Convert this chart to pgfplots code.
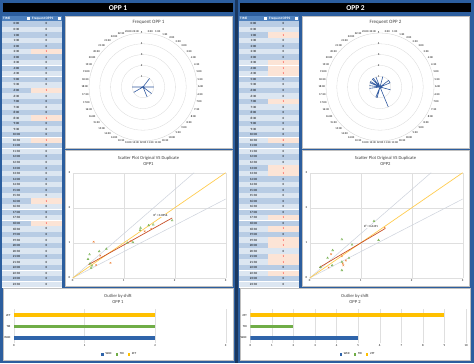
\documentclass[border=0pt]{standalone}
\usepackage{pgfplots}
\pgfplotsset{compat=1.18}
\usepackage{pgfplotstable}
\usepgfplotslibrary{polar}
\usepackage{fontspec}
\setmainfont{Carlito}
\newcommand\fs[1]{\fontsize{#1}{#1}\selectfont}
\definecolor{bgblue}{RGB}{44,94,158}
\definecolor{hdrblue}{RGB}{79,129,189}
\definecolor{rowA}{RGB}{184,204,228}
\definecolor{rowB}{RGB}{220,230,241}
\definecolor{hl}{RGB}{252,228,214}
\definecolor{radar}{RGB}{50,90,160}
\definecolor{barblue}{RGB}{47,100,170}
\definecolor{bargreen}{RGB}{112,173,71}
\definecolor{baryellow}{RGB}{255,192,0}
\definecolor{trend}{RGB}{200,80,40}
\definecolor{idline}{RGB}{255,205,80}
\definecolor{tolline}{RGB}{205,210,220}
\definecolor{mgreen}{RGB}{112,173,71}
\definecolor{morange}{RGB}{237,125,49}

\pgfplotstableread[row sep=\\]{
i v\\ 0 0\\ 1 0\\ 2 0\\ 3 0\\ 4 0\\ 5 1\\ 6 0\\ 7 0\\ 8 0\\ 9 0\\ 10 0\\ 11 0\\
12 1\\ 13 0\\ 14 0\\ 15 0\\ 16 0\\ 17 1\\ 18 0\\ 19 0\\ 20 0\\ 21 1\\ 22 0\\ 23 0\\
24 0\\ 25 0\\ 26 0\\ 27 0\\ 28 0\\ 29 0\\ 30 0\\ 31 0\\ 32 1\\ 33 0\\ 34 0\\ 35 0\\
36 1\\ 37 0\\ 38 0\\ 39 0\\ 40 0\\ 41 0\\ 42 0\\ 43 0\\ 44 0\\ 45 0\\ 46 0\\ 47 0\\
}\dataA
\pgfplotstableread[row sep=\\]{
i v\\ 0 0\\ 1 0\\ 2 1\\ 3 0\\ 4 0\\ 5 0\\ 6 0\\ 7 1\\ 8 1\\ 9 1\\ 10 0\\ 11 0\\
12 0\\ 13 0\\ 14 1\\ 15 0\\ 16 0\\ 17 0\\ 18 0\\ 19 0\\ 20 0\\ 21 2\\ 22 0\\ 23 0\\
24 0\\ 25 0\\ 26 1\\ 27 1\\ 28 0\\ 29 0\\ 30 0\\ 31 0\\ 32 0\\ 33 0\\ 34 0\\ 35 1\\
36 0\\ 37 1\\ 38 0\\ 39 1\\ 40 1\\ 41 0\\ 42 1\\ 43 1\\ 44 0\\ 45 1\\ 46 0\\ 47 0\\
}\dataB

\newcommand{\drawtable}[3]{%
\begin{scope}[xshift=#1bp]
 \fill[hdrblue] (2,347) rectangle (62,341.8);
 \node[font=\fs{3.4}\bfseries, text=white, anchor=west, inner sep=0] at (3,344.4) {TIME};
 \node[font=\fs{3.4}\bfseries, text=white, anchor=west, inner sep=0] at (32,344.4) {#2};
 \fill[white] (27.2,342.6) rectangle (30.4,346.2);
 \fill[white] (58.2,342.6) rectangle (61.4,346.2);
 \foreach \i in {0,...,47} {
   \pgfplotstablegetelem{\i}{v}\of#3
   \let\val\pgfplotsretval
   \pgfmathsetmacro\yt{341.8-5.54*\i}
   \pgfmathsetmacro\yb{\yt-5.54}
   \pgfmathsetmacro\ym{\yt-2.77}
   \pgfmathtruncatemacro\hh{floor(\i/2)}
   \pgfmathtruncatemacro\odd{mod(\i,2)}
   \ifnum\odd=0 \def\rc{rowA}\else\def\rc{rowB}\fi
   \fill[\rc] (2,\yb) rectangle (31,\yt);
   \ifnum\val>0 \fill[hl] (31,\yb) rectangle (62,\yt); \def\tc{red}\else \fill[\rc] (31,\yb) rectangle (62,\yt); \def\tc{black}\fi
   \draw[white, line width=0.3bp] (2,\yb) -- (62,\yb);
   \node[font=\fs{3.2}, inner sep=0] at (16.5,\ym) {\hh:\ifnum\odd=0 00\else 30\fi};
   \node[font=\fs{3.2}, inner sep=0, text=\tc] at (46.5,\ym) {\val};
 }
\end{scope}}

\pgfplotsset{
 radarstyle/.style={anchor=center, scale only axis, width=108bp, height=108bp,
  xmin=-270, xmax=90, ymin=0, ymax=5,
  xtick={-262.5,-255,...,90},
  xticklabels={23:30,23:00,22:30,22:00,21:30,21:00,20:30,20:00,19:30,19:00,18:30,18:00,17:30,17:00,16:30,16:00,15:30,15:00,14:30,14:00,13:30,13:00,12:30,12:00,11:30,11:00,10:30,10:00,9:30,9:00,8:30,8:00,7:30,7:00,6:30,6:00,5:30,5:00,4:30,4:00,3:30,3:00,2:30,2:00,1:30,1:00,0:30,0:00},
  xticklabel style={font=\fs{2.8}, inner sep=0.9bp},
  ytick={1,2,3,4,5},
  hide y axis,
  xmajorgrids=false,
  axis line style={gray!40, line width=0.3bp},
  xtick style={draw=none},
  major tick length=0pt, clip=false},
 scatstyle/.style={anchor=south west, scale only axis, width=153bp, height=105.3bp,
  xmin=0, xmax=3, ymin=0, ymax=3, xtick={0,1,2,3}, ytick={0,1,2,3},
  grid=major, major grid style={gray!25, line width=0.3bp},
  axis line style={draw=none}, major tick length=0pt,
  tick label style={font=\fs{3}}, /pgf/number format/assume math mode=true,
  xticklabel style={yshift=2bp}, yticklabel style={xshift=1bp}},
 barstyle/.style={anchor=south west, scale only axis, height=34bp,
  ymin=-0.5, ymax=2.5, ytick={0,1,2}, yticklabels={WHC,TRI,2FT},
  xmajorgrids, major grid style={gray!25, line width=0.3bp},
  axis line style={draw=none}, major tick length=0pt,
  tick label style={font=\fs{3}}, /pgf/number format/assume math mode=true,
  xticklabel style={yshift=2bp},
  legend columns=3, legend style={draw=none, fill=none, font=\fs{3}, at={(0.5,-0.33)}, anchor=center,
   /tikz/every even column/.append style={column sep=2bp}},
  legend image code/.code={\fill[#1] (0,-1bp) rectangle (2.2bp,1.2bp);}},
}

\begin{document}
\begin{tikzpicture}[x=1bp,y=1bp]
\useasboundingbox (0,0) rectangle (474,363);
\fill[bgblue] (0,0) rectangle (474,363);
\fill[bgblue!60!black] (235.2,0) rectangle (237.6,363);
% title bars
\fill[black] (3,360) rectangle (233,350.5);
\node[font=\fs{7.5}\bfseries, text=white] at (118,355.2) {OPP 1};
\fill[black] (240,360) rectangle (471,350.5);
\node[font=\fs{7.5}\bfseries, text=white] at (355.5,355.2) {OPP 2};
% tables
\drawtable{0}{Frequent OPP1}{\dataA}
\drawtable{237}{Frequent OPP2}{\dataB}
% chart boxes
\foreach \ox in {0,237} {
 \fill[white, draw=gray!50, line width=0.3bp] (65+\ox,347) rectangle (232+\ox,215);
 \fill[white, draw=gray!50, line width=0.3bp] (65+\ox,213) rectangle (232+\ox,77);
 \fill[white, draw=gray!50, line width=0.3bp] (3+\ox,74.5) rectangle (233+\ox,2.5);
 \node[font=\fs{4.6}, text=black!75] at (118+\ox,67) {Outlier by shift};
 \node[font=\fs{4.6}, text=black!75] at (148.5+\ox,204.7) {Scatter Plot Original VS Duplicate};
 % radar grid rings (r = 1..4; r = 5 is the axis circle)
 \foreach \r in {1,2,3,4} {
   \draw[gray!30, line width=0.3bp] (143+\ox,276) circle[radius=10.8*\r];
 }
}
\node[font=\fs{5}, text=black!75] at (148.5,340.7) {Frequent OPP 1};
\node[font=\fs{5}, text=black!75] at (385.5,340.7) {Frequent OPP 2};
\node[font=\fs{4.6}, text=black!75] at (148.5,198.8) {OPP1};
\node[font=\fs{4.6}, text=black!75] at (385.5,198.8) {OPP2};
\node[font=\fs{4.6}, text=black!75] at (118,60.8) {OPP 1};
\node[font=\fs{4.6}, text=black!75] at (355,60.8) {OPP 2};

% radar charts
\begin{polaraxis}[radarstyle, at={(143bp,276bp)}]
\addplot[radar, line width=0.6bp, no marks] table[x expr={90-7.5*\thisrow{i}}, y=v] {\dataA};
\node[font=\fs{3}, anchor=east, inner sep=0.5bp] at (axis cs:90,1) {1};
\node[font=\fs{3}, anchor=east, inner sep=0.5bp] at (axis cs:90,2) {2};
\node[font=\fs{3}, anchor=east, inner sep=0.5bp] at (axis cs:90,3) {3};
\node[font=\fs{3}, anchor=east, inner sep=0.5bp] at (axis cs:90,4) {4};
\node[font=\fs{3}, anchor=east, inner sep=0.5bp] at (axis cs:90,5) {5};
\end{polaraxis}
\begin{polaraxis}[radarstyle, at={(380bp,276bp)}]
\addplot[radar, line width=0.6bp, no marks] table[x expr={90-7.5*\thisrow{i}}, y=v] {\dataB};
\node[font=\fs{3}, anchor=east, inner sep=0.5bp] at (axis cs:90,1) {1};
\node[font=\fs{3}, anchor=east, inner sep=0.5bp] at (axis cs:90,2) {2};
\node[font=\fs{3}, anchor=east, inner sep=0.5bp] at (axis cs:90,3) {3};
\node[font=\fs{3}, anchor=east, inner sep=0.5bp] at (axis cs:90,4) {4};
\node[font=\fs{3}, anchor=east, inner sep=0.5bp] at (axis cs:90,5) {5};
\end{polaraxis}

% scatter OPP1
\begin{axis}[scatstyle, at={(72.7bp,85bp)}]
\addplot[tolline, line width=0.5bp] coordinates {(0,0) (2.38,3)};
\addplot[tolline, line width=0.5bp] coordinates {(0,0) (3,2.25)};
\addplot[idline, line width=0.7bp] coordinates {(0,0) (3,3)};
\addplot[only marks, mark=triangle, mark size=1.1bp, mgreen, line width=0.35bp] coordinates {
(0.33,0.67) (0.30,0.54) (0.52,0.76) (0.66,0.83) (0.34,0.41) (0.38,0.35) (0.36,0.29)
(1.07,1.00) (1.18,1.02) (1.33,1.43) (1.32,1.36) (1.49,1.50) (1.58,1.52) (1.95,1.64)};
\addplot[only marks, mark=x, mark size=1.1bp, morange, line width=0.35bp] coordinates {
(0.41,1.03) (0.54,0.64) (0.74,0.43) (0.46,0.37) (1.14,1.05) (1.41,1.33) (1.54,1.40)};
\addplot[trend, line width=0.7bp] coordinates {(0.31,0.38) (1.95,1.71)};
\node[font=\fs{3}, fill=white, inner sep=0.3bp] at (axis cs:1.72,1.79) {R² = 0.8956};
\end{axis}
% scatter OPP2
\begin{axis}[scatstyle, at={(309.7bp,85bp)}]
\addplot[tolline, line width=0.5bp] coordinates {(0,0) (2.38,3)};
\addplot[tolline, line width=0.5bp] coordinates {(0,0) (3,2.25)};
\addplot[idline, line width=0.7bp] coordinates {(0,0) (3,3)};
\addplot[only marks, mark=triangle, mark size=1.1bp, mgreen, line width=0.35bp] coordinates {
(0.63,1.10) (1.26,1.62) (1.35,1.08) (0.83,0.95) (0.45,0.79) (0.35,0.57) (0.77,0.57)
(0.63,0.46) (0.44,0.36) (0.21,0.31) (0.63,0.22)};
\addplot[only marks, mark=x, mark size=1.1bp, morange, line width=0.35bp] coordinates {
(1.47,1.43) (0.42,0.68) (0.63,0.62) (0.71,0.50) (0.65,0.41) (0.37,0.30) (0.66,0.36)};
\addplot[trend, line width=0.7bp] coordinates {(0.19,0.30) (1.48,1.41)};
\node[font=\fs{3}, fill=white, inner sep=0.3bp] at (axis cs:1.2,1.47) {R² = 0.6491};
\end{axis}

% bar OPP1
\begin{axis}[barstyle, at={(14bp,19.6bp)}, width=211.7bp, xmin=0, xmax=3, xtick={0,1,2,3}]
\addplot[xbar, bar shift=0pt, bar width=3.6bp, fill=barblue, draw=none] coordinates {(2,0)};
\addplot[xbar, bar shift=0pt, bar width=3.6bp, fill=bargreen, draw=none] coordinates {(2,1)};
\addplot[xbar, bar shift=0pt, bar width=3.6bp, fill=baryellow, draw=none] coordinates {(2,2)};
\legend{WHC,TRI,2FT}
\end{axis}
% bar OPP2
\begin{axis}[barstyle, at={(250.3bp,19.6bp)}, width=215.7bp, xmin=0, xmax=10, xtick={0,...,10}]
\addplot[xbar, bar shift=0pt, bar width=3.6bp, fill=barblue, draw=none] coordinates {(5,0)};
\addplot[xbar, bar shift=0pt, bar width=3.6bp, fill=bargreen, draw=none] coordinates {(2,1)};
\addplot[xbar, bar shift=0pt, bar width=3.6bp, fill=baryellow, draw=none] coordinates {(9,2)};
\legend{WHC,TRI,2FT}
\end{axis}
\end{tikzpicture}
\end{document}
